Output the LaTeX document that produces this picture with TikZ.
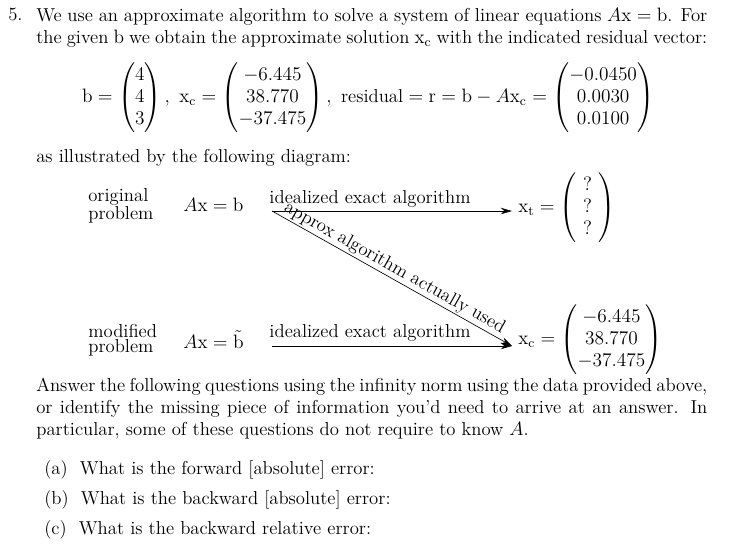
\documentclass[tikz,border=0pt]{standalone}
\usepackage{amsmath}
\usetikzlibrary{arrows.meta}
\begin{document}
\begin{tikzpicture}[x=0.62pt,y=-0.62pt,
  every node/.style={inner sep=0pt,font=\fontsize{11.6}{13.6}\selectfont},
  para/.style={anchor=north west,text width=416pt,align=justify},
  lbl/.style={anchor=west},
  small/.style={font=\fontsize{11}{13}\selectfont},
  flow/.style={-{Stealth[length=7pt,width=4pt]},thin}]
\useasboundingbox (0,0) rectangle (739,548);
\node[anchor=north west] (num) at (8,8) {5.};
\node[para] (p1) at (36,8) {We use an approximate algorithm to solve a system of linear equations $A\mathrm{x}=\mathrm{b}$. For the given $\mathrm{b}$ we obtain the approximate solution $\mathrm{x}_\mathrm{c}$ with the indicated residual vector:};
\node (eq) at (368,98) {$\mathrm{b}=\begin{pmatrix}4\\4\\3\end{pmatrix},\ \mathrm{x}_\mathrm{c}=\begin{pmatrix}-6.445\\38.770\\-37.475\end{pmatrix},\ \text{residual}=\mathrm{r}=\mathrm{b}-A\mathrm{x}_\mathrm{c}=\begin{pmatrix}-0.0450\\0.0030\\0.0100\end{pmatrix}$};
\node[lbl] (as) at (36,158) {as illustrated by the following diagram:};
\node[lbl,align=left,font=\fontsize{11.6}{9}\selectfont] (orig) at (88,206) {original\\problem};
\node[lbl,align=left,font=\fontsize{11.6}{9}\selectfont] (modi) at (88,340) {modified\\problem};
\node[lbl] (axb) at (183,205) {$A\mathrm{x}=\mathrm{b}$};
\node[lbl] (axbt) at (183,340) {$A\mathrm{x}=\tilde{\mathrm{b}}$};
\coordinate (s1) at (272,211);
\coordinate (e1) at (512,211);
\coordinate (s2) at (272,346);
\coordinate (e2) at (512,346);
\node[lbl] (xt) at (518,208) {$\mathrm{x}_\mathrm{t}=\begin{pmatrix}\ ?\ \\ \ ?\ \\ \ ?\ \end{pmatrix}$};
\node[lbl] (xc) at (518,340) {$\mathrm{x}_\mathrm{c}=\begin{pmatrix}-6.445\\38.770\\-37.475\end{pmatrix}$};
\draw[flow] (s1) -- (e1);
\draw[flow] (s2) -- (e2);
\node[anchor=base] (l1) at (370,203) {idealized exact algorithm};
\node[anchor=base] (l2) at (370,337) {idealized exact algorithm};
\draw[flow] (s1) -- node[sloped,above=1pt,pos=0.49] {approx algorithm actually used} (e2);
\node[para] (p2) at (36,378) {Answer the following questions using the infinity norm using the data provided above, or identify the missing piece of information you'd need to arrive at an answer. In particular, some of these questions do not require to know $A$.};
\node[lbl] (qa) at (44,470) {(a)\ \ What is the forward [absolute] error:};
\node[lbl] (qb) at (44,500) {(b)\ \ What is the backward [absolute] error:};
\node[lbl] (qc) at (44,530) {(c)\ \ What is the backward relative error:};
\end{tikzpicture}
\end{document}
